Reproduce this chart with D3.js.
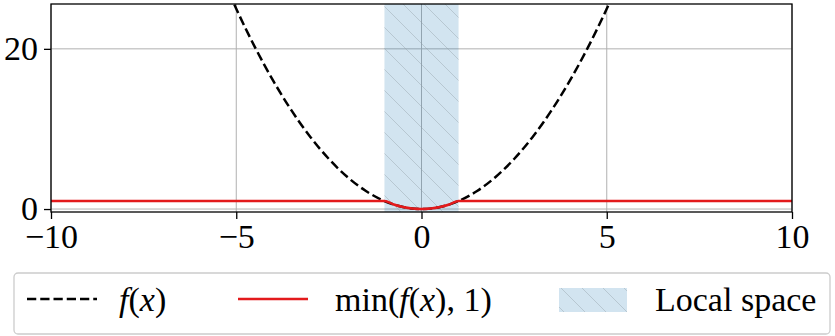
<!DOCTYPE html>
<html>
<head>
<meta charset="utf-8">
<script src="https://cdn.jsdelivr.net/npm/d3@7"></script>
<style>
  body { margin: 0; background: #fff; }
  svg text { font-family: "Liberation Serif", "Times New Roman", Times, "DejaVu Serif", serif; }
</style>
</head>
<body>
<div id="chart"></div>
<script>
// data
const xTicks = [-10, -5, 0, 5, 10];
const yTicks = [0, 20];
const fX = [-5.2, -5, -4.5, -4, -3.5, -3, -2.5, -2, -1.5, -1, -0.5, 0, 0.5, 1, 1.5, 2, 2.5, 3, 3.5, 4, 4.5, 5, 5.2];
const fY = [27.04, 25, 20.25, 16, 12.25, 9, 6.25, 4, 2.25, 1, 0.25, 0, 0.25, 1, 2.25, 4, 6.25, 9, 12.25, 16, 20.25, 25, 27.04];
const minX = [-10, -1, -0.75, -0.5, -0.25, 0, 0.25, 0.5, 0.75, 1, 10];
const minY = [1, 1, 0.5625, 0.25, 0.0625, 0, 0.0625, 0.25, 0.5625, 1, 1];
const localSpan = [-1, 1];
const legendLabels = ["f(x)", "min(f(x), 1)", "Local space"];

const W = 835, H = 336;
const plot = { left: 51, right: 792, top: 4, bottom: 212 };
const serif = "'Liberation Serif', 'Times New Roman', Times, 'DejaVu Serif', serif";

const svg = d3.select("#chart").append("svg")
  .attr("width", W)
  .attr("height", H)
  .attr("font-family", serif);

const x = d3.scaleLinear().domain([-10, 10]).range([plot.left, plot.right]);
const y = d3.scaleLinear().domain([-0.37, 25.6]).range([plot.bottom, plot.top]);

// hatch pattern for the local space
const defs = svg.append("defs");
const pat = defs.append("pattern")
  .attr("id", "hatch")
  .attr("patternUnits", "userSpaceOnUse")
  .attr("width", 21)
  .attr("height", 21);
pat.append("path")
  .attr("d", "M-2,-2 L23,23 M-2,19 L2,23 M19,-2 L23,2")
  .attr("stroke", "#8f9aa3")
  .attr("stroke-opacity", 0.4)
  .attr("stroke-width", 1);

defs.append("clipPath").attr("id", "clip")
  .append("rect")
  .attr("x", plot.left).attr("y", plot.top)
  .attr("width", plot.right - plot.left)
  .attr("height", plot.bottom - plot.top);

// grid
const grid = svg.append("g").attr("stroke", "#b0b0b0").attr("stroke-width", 1);
xTicks.forEach(t => {
  grid.append("line")
    .attr("x1", x(t)).attr("x2", x(t))
    .attr("y1", plot.top).attr("y2", plot.bottom);
});
yTicks.forEach(t => {
  grid.append("line")
    .attr("x1", plot.left).attr("x2", plot.right)
    .attr("y1", y(t)).attr("y2", y(t));
});

// local space band
const band = svg.append("g");
band.append("rect")
  .attr("x", x(localSpan[0])).attr("y", plot.top)
  .attr("width", x(localSpan[1]) - x(localSpan[0]))
  .attr("height", plot.bottom - plot.top)
  .attr("fill", "#1f77b4").attr("fill-opacity", 0.2);
band.append("rect")
  .attr("x", x(localSpan[0])).attr("y", plot.top)
  .attr("width", x(localSpan[1]) - x(localSpan[0]))
  .attr("height", plot.bottom - plot.top)
  .attr("fill", "url(#hatch)");

// curves
const lines = svg.append("g").attr("clip-path", "url(#clip)");
const line = d3.line().x(d => x(d[0])).y(d => y(d[1])).curve(d3.curveMonotoneX);

lines.append("path")
  .attr("d", line(fX.map((v, i) => [v, fY[i]])))
  .attr("fill", "none")
  .attr("stroke", "#000")
  .attr("stroke-width", 2.5)
  .attr("stroke-dasharray", "9.25,4");

lines.append("path")
  .attr("d", line(minX.map((v, i) => [v, minY[i]])))
  .attr("fill", "none")
  .attr("stroke", "#e31a1c")
  .attr("stroke-width", 2.5);

// frame
svg.append("rect")
  .attr("x", plot.left).attr("y", plot.top)
  .attr("width", plot.right - plot.left)
  .attr("height", plot.bottom - plot.top)
  .attr("fill", "none")
  .attr("stroke", "#000")
  .attr("stroke-width", 1.3);

// axes
const xAxis = svg.append("g")
  .attr("transform", `translate(0,${plot.bottom})`)
  .call(d3.axisBottom(x).tickValues(xTicks).tickSize(7).tickPadding(5)
    .tickFormat(d => d < 0 ? "\u2212" + Math.abs(d) : d));
const yAxis = svg.append("g")
  .attr("transform", `translate(${plot.left},0)`)
  .call(d3.axisLeft(y).tickValues(yTicks).tickSize(7).tickPadding(6));

[xAxis, yAxis].forEach(a => {
  a.attr("font-family", serif).attr("font-size", 34);
  a.select(".domain").remove();
  a.selectAll(".tick line").attr("stroke", "#000").attr("stroke-width", 1.3);
  a.selectAll(".tick text").attr("fill", "#000");
});
xAxis.selectAll(".tick text").attr("dy", "0.72em");
yAxis.selectAll(".tick text").attr("dy", "0.32em");

// legend
const lg = svg.append("g").attr("font-size", 34);
lg.append("rect")
  .attr("x", 14).attr("y", 273)
  .attr("width", 816).attr("height", 61)
  .attr("rx", 4)
  .attr("fill", "#fff")
  .attr("stroke", "#cccccc")
  .attr("stroke-width", 1.3);

const ly = 299;
lg.append("line")
  .attr("x1", 27).attr("x2", 97).attr("y1", ly).attr("y2", ly)
  .attr("stroke", "#000").attr("stroke-width", 2.5)
  .attr("stroke-dasharray", "9.25,4");
lg.append("line")
  .attr("x1", 238).attr("x2", 308).attr("y1", ly).attr("y2", ly)
  .attr("stroke", "#e31a1c").attr("stroke-width", 2.5);
lg.append("rect")
  .attr("x", 559).attr("y", 288).attr("width", 68).attr("height", 24)
  .attr("fill", "#1f77b4").attr("fill-opacity", 0.2);
lg.append("rect")
  .attr("x", 559).attr("y", 288).attr("width", 68).attr("height", 24)
  .attr("fill", "url(#hatch)");

const ty = 311;
const t1 = lg.append("text").attr("x", 119).attr("y", ty);
t1.append("tspan").attr("font-style", "italic").text("f");
t1.append("tspan").text("(");
t1.append("tspan").attr("font-style", "italic").text("x");
t1.append("tspan").text(")");

const t2 = lg.append("text").attr("x", 335).attr("y", ty);
t2.append("tspan").text("min(");
t2.append("tspan").attr("font-style", "italic").text("f");
t2.append("tspan").text("(");
t2.append("tspan").attr("font-style", "italic").text("x");
t2.append("tspan").text("), 1)");

lg.append("text").attr("x", 655).attr("y", ty)
  .text(legendLabels[2]);
</script>
</body>
</html>
